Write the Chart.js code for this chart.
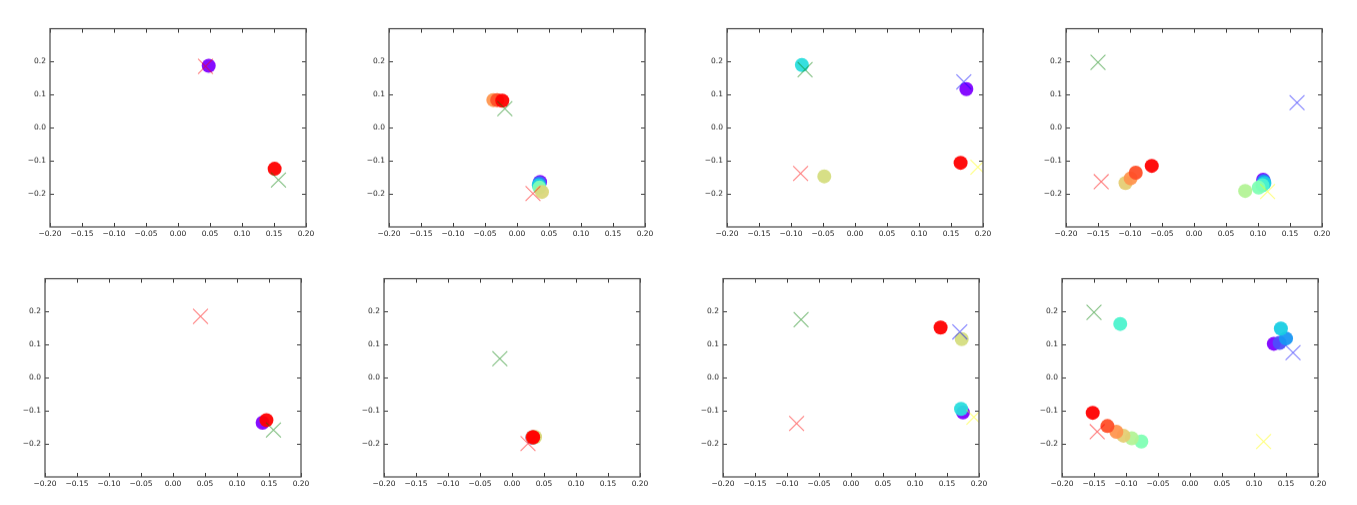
<!DOCTYPE html>
<html>
<head>
<meta charset="utf-8">
<title>Cluster centers vs points</title>
<script src="https://cdn.jsdelivr.net/npm/chart.js@4.4.1/dist/chart.umd.min.js"></script>
<style>
  html, body { margin: 0; padding: 0; background: #fff; }
  #stage { position: relative; width: 1357px; height: 505px; overflow: hidden; }
  .panel { position: absolute; }
</style>
</head>
<body>
<div id="stage"></div>
<script>
'use strict';

// ************** Tick Labels ********************

const xTickLabels = [-0.2, -0.15, -0.1, -0.05, 0, 0.05, 0.1, 0.15, 0.2];
const yTickLabels = [-0.2, -0.1, 0, 0.1, 0.2];

// ************** Centers (x markers) ************
// one set per column, colours r, g, b, y in that order

const centersCol1X = [0.043, 0.157];
const centersCol1Y = [0.186, -0.158];

const centersCol2X = [0.025, -0.019];
const centersCol2Y = [-0.199, 0.058];

const centersCol3X = [-0.085, -0.078, 0.170, 0.192];
const centersCol3Y = [-0.138, 0.176, 0.139, -0.119];

const centersCol4X = [-0.145, -0.150, 0.161, 0.115];
const centersCol4Y = [-0.163, 0.198, 0.076, -0.193];

// ************** Points (circles) ***************
// C is the colour value on the rainbow map, 0 = purple, 1 = red

const panel1X = [0.048, 0.151];
const panel1Y = [0.188, -0.124];
const panel1C = [0, 1];

const panel2X = [0.036, 0.035, 0.034, 0.035, 0.039, -0.037, -0.031, -0.023];
const panel2Y = [-0.164, -0.168, -0.174, -0.181, -0.194, 0.084, 0.084, 0.082];
const panel2C = [0, 0.15, 0.3, 0.5, 0.68, 0.8, 0.9, 1];

const panel3X = [0.174, -0.083, -0.048, 0.165];
const panel3Y = [0.117, 0.190, -0.147, -0.106];
const panel3C = [0, 0.333, 0.667, 1];

const panel4X = [0.108, 0.109, 0.109, 0.110, 0.107, 0.101, 0.080, -0.107, -0.099, -0.091, -0.066];
const panel4Y = [-0.157, -0.160, -0.163, -0.168, -0.174, -0.181, -0.191, -0.167, -0.153, -0.136, -0.115];
const panel4C = [0, 0.1, 0.2, 0.3, 0.4, 0.5, 0.6, 0.7, 0.8, 0.9, 1];

const panel5X = [0.140, 0.146];
const panel5Y = [-0.136, -0.128];
const panel5C = [0, 1];

const panel6X = [0.032, 0.032, 0.033, 0.035, 0.036, 0.032, 0.033, 0.033];
const panel6Y = [-0.181, -0.180, -0.181, -0.180, -0.179, -0.180, -0.180, -0.180];
const panel6C = [0, 0.15, 0.3, 0.5, 0.68, 0.8, 0.9, 1];

const panel7X = [0.175, 0.172, 0.173, 0.140];
const panel7Y = [-0.105, -0.094, 0.117, 0.152];
const panel7C = [0, 0.333, 0.667, 1];

const panel8X = [0.131, 0.140, 0.150, 0.142, -0.109, -0.076, -0.091, -0.104, -0.115, -0.129, -0.152];
const panel8Y = [0.103, 0.106, 0.119, 0.149, 0.163, -0.193, -0.183, -0.175, -0.163, -0.146, -0.106];
const panel8C = [0, 0.1, 0.2, 0.3, 0.4, 0.5, 0.6, 0.7, 0.8, 0.9, 1];

// ************** Layout *************************

const centerColors = ['rgba(255,0,0,0.5)', 'rgba(0,128,0,0.5)', 'rgba(0,0,255,0.5)', 'rgba(255,255,0,0.5)'];

const AXES_W = 256;
const AXES_H = 198;
const PAD_LEFT = 40;
const PAD_TOP = 8;
const PAD_RIGHT = 14;
const PAD_BOTTOM = 16;

// axes box top-left corner of each subplot on the page
let panels = [
  { left: 50, top: 29, xs: panel1X, ys: panel1Y, cs: panel1C, cx: centersCol1X, cy: centersCol1Y },
  { left: 389, top: 29, xs: panel2X, ys: panel2Y, cs: panel2C, cx: centersCol2X, cy: centersCol2Y },
  { left: 727, top: 29, xs: panel3X, ys: panel3Y, cs: panel3C, cx: centersCol3X, cy: centersCol3Y },
  { left: 1066, top: 29, xs: panel4X, ys: panel4Y, cs: panel4C, cx: centersCol4X, cy: centersCol4Y },
  { left: 45, top: 279, xs: panel5X, ys: panel5Y, cs: panel5C, cx: centersCol1X, cy: centersCol1Y },
  { left: 384, top: 279, xs: panel6X, ys: panel6Y, cs: panel6C, cx: centersCol2X, cy: centersCol2Y },
  { left: 723, top: 279, xs: panel7X, ys: panel7Y, cs: panel7C, cx: centersCol3X, cy: centersCol3Y },
  { left: 1062, top: 279, xs: panel8X, ys: panel8Y, cs: panel8C, cx: centersCol4X, cy: centersCol4Y }
];

// ************** Helper Functions ***************

// matplotlib 'rainbow' colormap
function rainbow(t, alpha) {
  let r = Math.min(1, Math.abs(2 * t - 0.5));
  let g = Math.sin(Math.PI * t);
  let b = Math.cos(Math.PI * t / 2);
  return `rgba(${Math.round(r * 255)},${Math.round(g * 255)},${Math.round(b * 255)},${alpha})`;
}

function toPoints(xs, ys) {
  let pts = [];
  for (let i = 0; i < xs.length; i++) {
    pts.push({ x: xs[i], y: ys[i] });
  }
  return pts;
}

function fmt(v, digits) {
  return v.toFixed(digits).replace('-', '\u2212');
}

// box round the axes with short inward ticks on all four sides
const framePlugin = {
  id: 'frame',
  afterDatasetsDraw(chart) {
    let c = chart.ctx;
    let a = chart.chartArea;
    let xs = chart.scales.x;
    let ys = chart.scales.y;
    c.save();
    c.strokeStyle = '#3a3a3a';
    c.lineWidth = 1;
    c.beginPath();
    for (let i = 0; i < xTickLabels.length; i++) {
      let px = Math.round(xs.getPixelForValue(xTickLabels[i])) + 0.5;
      c.moveTo(px, a.bottom);
      c.lineTo(px, a.bottom - 4);
      c.moveTo(px, a.top);
      c.lineTo(px, a.top + 4);
    }
    for (let i = 0; i < yTickLabels.length; i++) {
      let py = Math.round(ys.getPixelForValue(yTickLabels[i])) + 0.5;
      c.moveTo(a.left, py);
      c.lineTo(a.left + 4, py);
      c.moveTo(a.right, py);
      c.lineTo(a.right - 4, py);
    }
    c.stroke();
    c.strokeStyle = '#555';
    c.lineWidth = 1.3;
    c.strokeRect(a.left, a.top, a.right - a.left, a.bottom - a.top);
    c.restore();
  }
};

const tickFont = { family: 'DejaVu Sans', size: 7.5 };

function buildChart(canvas, p) {
  let pointColors = p.cs.map(t => rainbow(t, 0.95));
  let crossColors = centerColors.slice(0, p.cx.length);

  return new Chart(canvas.getContext('2d'), {
    type: 'scatter',
    data: {
      datasets: [{
        data: toPoints(p.cx, p.cy),
        pointStyle: 'crossRot',
        pointRadius: 10.5,
        borderColor: crossColors,
        borderWidth: 1.1,
        order: 0,
        clip: 0
      },
      {
        data: toPoints(p.xs, p.ys),
        pointStyle: 'circle',
        pointRadius: 7,
        backgroundColor: pointColors,
        borderWidth: 0,
        order: 1,
        clip: 0
      }]
    },
    options: {
      responsive: false,
      animation: false,
      events: [],
      devicePixelRatio: 1,
      layout: { padding: { left: 0, top: PAD_TOP, right: PAD_RIGHT, bottom: 0 } },
      plugins: {
        legend: { display: false },
        tooltip: { enabled: false }
      },
      scales: {
        x: {
          type: 'linear',
          min: -0.2,
          max: 0.2,
          grid: { display: false, drawTicks: false },
          border: { display: false },
          afterBuildTicks: s => { s.ticks = xTickLabels.map(v => ({ value: v })); },
          afterFit: s => { s.height = PAD_BOTTOM; },
          ticks: {
            font: tickFont,
            color: '#222',
            padding: 3,
            maxRotation: 0,
            autoSkip: false,
            callback: v => fmt(v, 2)
          }
        },
        y: {
          type: 'linear',
          min: -0.3,
          max: 0.3,
          grid: { display: false, drawTicks: false },
          border: { display: false },
          afterBuildTicks: s => { s.ticks = yTickLabels.map(v => ({ value: v })); },
          afterFit: s => { s.width = PAD_LEFT; },
          ticks: {
            font: tickFont,
            color: '#222',
            padding: 4,
            autoSkip: false,
            callback: v => fmt(v, 1)
          }
        }
      }
    },
    plugins: [framePlugin]
  });
}

function renderPanel(p) {
  let stage = document.getElementById('stage');
  let div = document.createElement('div');
  div.className = 'panel';
  let canvas = document.createElement('canvas');
  let w = PAD_LEFT + AXES_W + PAD_RIGHT;
  let h = PAD_TOP + AXES_H + PAD_BOTTOM;
  canvas.width = w;
  canvas.height = h;
  div.appendChild(canvas);
  stage.appendChild(div);

  let chart = buildChart(canvas, p);

  // make the plot area exactly AXES_W x AXES_H, then line it up on the page
  let a = chart.chartArea;
  let dw = AXES_W - (a.right - a.left);
  let dh = AXES_H - (a.bottom - a.top);
  if (dw !== 0 || dh !== 0) {
    chart.destroy();
    canvas.width = w + dw;
    canvas.height = h + dh;
    canvas.style.width = (w + dw) + 'px';
    canvas.style.height = (h + dh) + 'px';
    chart = buildChart(canvas, p);
    a = chart.chartArea;
  }
  div.style.left = (p.left - a.left) + 'px';
  div.style.top = (p.top - a.top) + 'px';
}

// ************** Executable Code ****************

for (let i = 0; i < panels.length; i++) {
  renderPanel(panels[i]);
}
</script>
</body>
</html>
